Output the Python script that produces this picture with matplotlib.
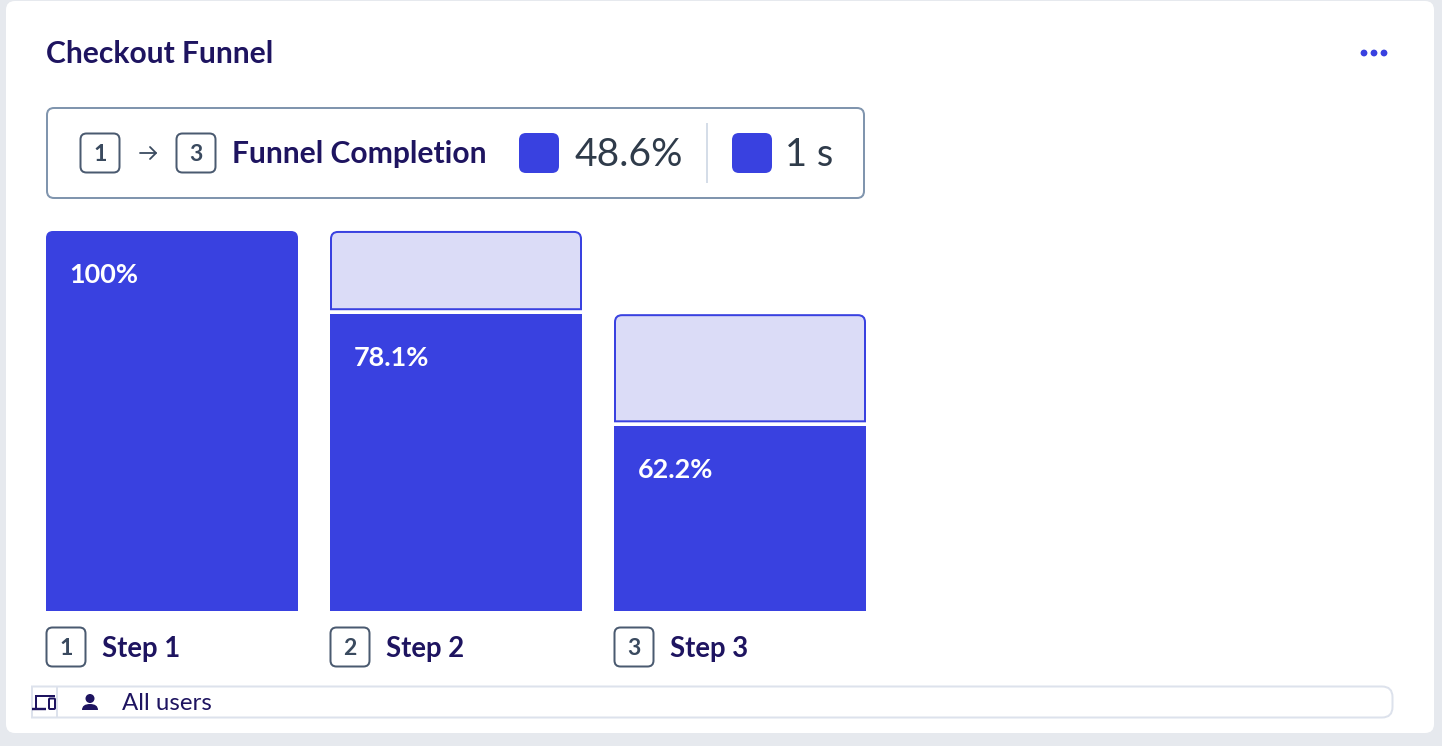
import matplotlib
matplotlib.use("Agg")
import matplotlib.pyplot as plt
from matplotlib.patches import FancyBboxPatch, Circle, PathPatch
from matplotlib.path import Path
from matplotlib import font_manager as fm

# ---- data ----
title = "Checkout Funnel"
steps = ["Step 1", "Step 2", "Step 3"]
badges = ["1", "2", "3"]
overall = [100.0, 78.1, 48.6]        # height of the solid bars, % of step 1
step_labels = ["100%", "78.1%", "62.2%"]
summary_label = "Funnel Completion"
summary_from, summary_to = "1", "3"
summary_rate = "48.6%"
summary_time = "1 s"
segment = "All users"

# ---- style ----
W, H = 1442, 746
BG = "#e6e9ee"; CARD = "#ffffff"; BLUE = "#3941e0"; LIGHT = "#dbdcf7"
NAVY = "#1e1460"; SLATE = "#3a4a5f"; BOX = "#8095ae"; SOFT = "#dde2ec"; DARKTXT = "#2f3b4a"
names = {f.name for f in fm.fontManager.ttflist}
FONT = "Lato" if "Lato" in names else "DejaVu Sans"
plt.rcParams["font.family"] = [FONT, "DejaVu Sans"]

fig = plt.figure(figsize=(W / 100, H / 100), dpi=100, facecolor=BG)

# chrome axes in pixel coordinates
ui = fig.add_axes([0, 0, 1, 1], zorder=1)
ui.set_xlim(0, W); ui.set_ylim(H, 0); ui.axis("off")


def rbox(x0, y0, x1, y1, r, fc="none", ec="none", lw=0.0, ax=ui, z=2):
    p = FancyBboxPatch((x0 + r, y0 + r), x1 - x0 - 2 * r, y1 - y0 - 2 * r,
                       boxstyle=f"round,pad={r},rounding_size={r}",
                       fc=fc, ec=ec, lw=lw, zorder=z)
    ax.add_patch(p)
    return p


def px(n):
    return n * 72 / 100


def badge(x0, y0, s):
    rbox(x0, y0, x0 + 39, y0 + 39, 6, fc="white", ec="#4a5a70", lw=px(2))
    ui.text(x0 + 19.5, y0 + 19, s, ha="center", va="center_baseline",
            fontsize=px(23), color=SLATE, fontweight="bold", zorder=3)


# card
rbox(6, 1, 1434, 733, 9, fc=CARD, z=1)

# header
ui.text(46, 51.5, title, fontsize=px(30), color=NAVY, fontweight="bold",
        va="center_baseline", ha="left", zorder=3)
for cx in (1364, 1374, 1384):
    ui.add_patch(Circle((cx, 53), 3.4, fc=BLUE, ec="none", zorder=3))

# summary box
rbox(47, 108, 864, 198, 7, fc="white", ec=BOX, lw=px(2))
badge(80.5, 133.5, summary_from)
ui.plot([140, 156], [153, 153], color=SLATE, lw=px(1.8), zorder=3, solid_capstyle="round")
ui.plot([150, 156, 150], [147, 153, 159], color=SLATE, lw=px(1.8), zorder=3,
        solid_capstyle="round", solid_joinstyle="round")
badge(176.5, 133.5, summary_to)
ui.text(232, 151.5, summary_label, fontsize=px(30), color=NAVY, fontweight="bold",
        va="center_baseline", ha="left", zorder=3)
rbox(519, 133, 559, 173, 7, fc=BLUE)
ui.text(574.5, 151.5, summary_rate, fontsize=px(39), color=DARKTXT, fontweight="normal",
        va="center_baseline", ha="left", zorder=3)
ui.plot([707, 707], [123, 183], color="#d5dde8", lw=px(2), zorder=3, solid_capstyle="butt")
rbox(732, 133, 772, 173, 7, fc=BLUE)
ui.text(785, 151.5, summary_time, fontsize=px(38), color=DARKTXT, fontweight="normal",
        va="center_baseline", ha="left", zorder=3)

# step labels under the bars
for i, (s, b) in enumerate(zip(steps, badges)):
    x0 = 46.5 + 284 * i
    badge(x0, 627.5, b)
    ui.text(x0 + 55.5, 646, s, fontsize=px(27.5), color=NAVY, fontweight="bold",
            va="center_baseline", ha="left", zorder=3)

# segment strip
strip = Path([(32, 686.5), (1382, 686.5), (1392.5, 686.5), (1392.5, 697),
              (1392.5, 707), (1392.5, 717.5), (1382, 717.5), (32, 717.5), (32, 686.5)],
             [Path.MOVETO, Path.LINETO, Path.CURVE3, Path.CURVE3,
              Path.LINETO, Path.CURVE3, Path.CURVE3, Path.LINETO, Path.CLOSEPOLY])
ui.add_patch(PathPatch(strip, fc="white", ec=SOFT, lw=px(2), zorder=2))
ui.plot([57, 57], [686, 718], color=SOFT, lw=px(2), zorder=3, solid_capstyle="butt")
# devices icon
ui.plot([35.5, 35.5, 54], [707, 695.5, 695.5], color=NAVY, lw=px(2), zorder=3, solid_joinstyle="miter")
ui.plot([32, 46], [708.5, 708.5], color=NAVY, lw=px(2.4), zorder=3, solid_capstyle="butt")
rbox(49, 698.5, 55, 709, 1, fc="white", ec=NAVY, lw=px(2), z=3)
# user icon
ui.add_patch(Circle((90, 698.5), 4.5, fc=NAVY, ec="none", zorder=3))
body = Path([(82, 710), (82, 704), (90, 704), (98, 704), (98, 710), (82, 710)],
            [Path.MOVETO, Path.CURVE3, Path.CURVE3, Path.CURVE3, Path.CURVE3, Path.CLOSEPOLY])
ui.add_patch(PathPatch(body, fc=NAVY, ec="none", zorder=3))
ui.text(122, 702, segment, fontsize=px(24), color=NAVY, va="center_baseline", ha="left", zorder=3)

# ---- bars: 284 px per category, 380 px for 100 % ----
L, R, T, B = 46, 866, 231, 611
ax = fig.add_axes([L / W, 1 - B / H, (R - L) / W, (B - T) / H], zorder=2)
ax.patch.set_alpha(0); ax.axis("off")
UX = 284.0; UY = 380.0 / 100
ax.set_xlim(-126 / UX, 2 + 126 / UX); ax.set_ylim(0, 100)
BW = 252 / UX
GAP = 5 / UY
RAD_X, RAD_Y = 7 / UX, 7 / UY


def round_top(bar, **kw):
    """Replace a bar's square top with rounded corners, same geometry."""
    x, y, w, h = bar.get_x(), bar.get_y(), bar.get_width(), bar.get_height()
    v = [(x, y), (x, y + h - RAD_Y), (x, y + h), (x + RAD_X, y + h),
         (x + w - RAD_X, y + h), (x + w, y + h), (x + w, y + h - RAD_Y), (x + w, y), (x, y)]
    c = [Path.MOVETO, Path.LINETO, Path.CURVE3, Path.CURVE3, Path.LINETO,
         Path.CURVE3, Path.CURVE3, Path.LINETO, Path.CLOSEPOLY]
    bar.set_visible(False)
    ax.add_patch(PathPatch(Path(v, c), clip_on=False, **kw))


xs = list(range(len(overall)))
solid = ax.bar(xs, overall, width=BW, color=BLUE, linewidth=0, zorder=2)
round_top(solid[0], fc=BLUE, ec="none", zorder=2)

for i in xs[1:]:
    drop = ax.bar([i], [overall[i - 1] - overall[i] - GAP - 0.25], bottom=[overall[i] + GAP],
                  width=BW - 2 / UX, color=LIGHT, zorder=1)
    round_top(drop[0], fc=LIGHT, ec=BLUE, lw=px(2), zorder=1)

for i, lab in zip(xs, step_labels):
    ax.annotate(lab, (i - BW / 2, overall[i]), xytext=(px(23.5), -px(42)),
                textcoords="offset points", color="white", fontsize=px(27),
                va="center_baseline", ha="left", zorder=4, fontweight="bold")

fig.savefig("out.png", dpi=100, facecolor=BG)
